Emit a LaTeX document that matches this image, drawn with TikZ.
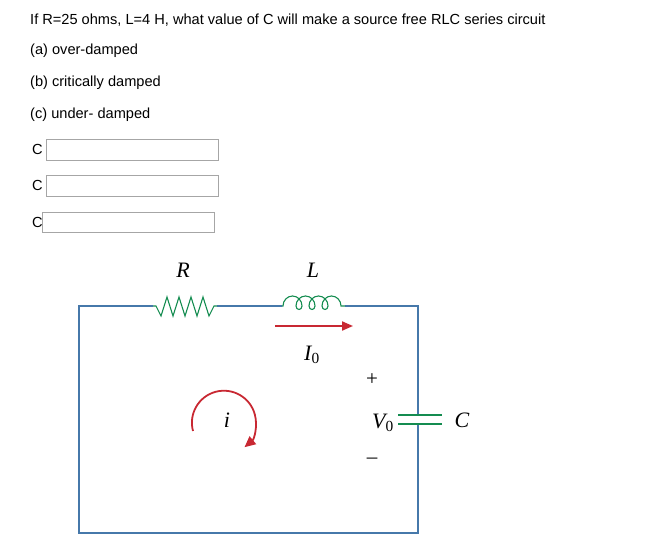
\documentclass[tikz,border=0pt]{standalone}
\usepackage{fontspec}
\setmainfont{Liberation Sans}
\newfontfamily\tnr{Liberation Serif}
\usetikzlibrary{decorations.pathmorphing,arrows.meta}
\definecolor{wire}{RGB}{70,120,170}
\definecolor{comp}{RGB}{20,140,80}
\definecolor{arr}{RGB}{200,40,50}
\begin{document}
\begin{tikzpicture}[x=1pt,y=-1pt,
  q/.style={anchor=west,font=\fontsize{14.6pt}{16pt}\selectfont,inner sep=0},
  box/.style={draw=black!35,line width=0.9pt},
  lab/.style={font=\tnr\itshape\fontsize{22pt}{23pt}\selectfont,inner sep=0},
  sym/.style={font=\tnr\fontsize{21pt}{22pt}\selectfont,inner sep=0}]
\useasboundingbox (0,0) rectangle (650,551);
\node[q] (t1) at (30,20) {If R=25 ohms, L=4 H, what value of C will make a source free RLC series circuit};
\node[q] (t2) at (30,51) {(a) over-damped};
\node[q] (t3) at (30,83) {(b) critically damped};
\node[q] (t4) at (30,115) {(c) under- damped};
\node[q] (c1) at (32,149) {C};
\node[q] (c2) at (32,185) {C};
\node[q] (c3) at (32,222) {C};
\draw[box,fill=white] (46,139) rectangle (218,160);
\draw[box,fill=white] (46,175) rectangle (218,196);
\draw[box,fill=white] (42,212) rectangle (214,232);
% circuit
\coordinate (r1) at (153,306); \coordinate (r2) at (217,306);
\coordinate (l1) at (282,306); \coordinate (l2) at (345,306);
\draw[wire,line width=1.3pt] (r1) -- (79,306) -- (79,533) -- (418,533) -- (418,424) -- (403,424);
\draw[wire,line width=1.3pt] (403,415) -- (418,415) -- (418,306) -- (l2);
\draw[wire,line width=1.3pt] (r2) -- (l1);
\draw[comp,line width=1.1pt] (r1) -- (156,306) -- (161,316) -- (167,297) -- (173,316) -- (179,297) -- (185,316) -- (191,297) -- (197,316) -- (203,297) -- (209,316) -- (214,306) -- (r2);
\draw[comp,line width=1.1pt] (l1) -- (283,306)
  arc[start angle=180,end angle=360,x radius=9.5,y radius=10]
  arc[start angle=0,end angle=180,x radius=3,y radius=3.5]
  arc[start angle=180,end angle=360,x radius=9.5,y radius=10]
  arc[start angle=0,end angle=180,x radius=3,y radius=3.5]
  arc[start angle=180,end angle=360,x radius=9.5,y radius=10]
  arc[start angle=0,end angle=180,x radius=3,y radius=3.5]
  arc[start angle=180,end angle=360,x radius=9.5,y radius=10] -- (l2);
\draw[comp,line width=1.2pt] (398,415) -- (442,415) (398,424) -- (442,424);
\node[lab] (R) at (183,270) {R};
\node[lab] (L) at (313,270) {L};
\coordinate (a1) at (275,326); \coordinate (a2) at (353,326);
\draw[arr,line width=2pt,-{Triangle[length=11pt,width=9pt]}] (a1) -- (a2);
\node[lab] (I0) at (312,355) {I\textsubscript{\upshape 0}};
\node[sym] (plus) at (372,380) {+};
\node[lab] (V0) at (383,423) {V\textsubscript{\upshape 0}};
\node[sym] (minus) at (372,461) {–};
\node[lab] (C) at (462,420) {C};
\node[lab] (i) at (227,420) {i};
\draw[arr,line width=1.8pt,-{Triangle[length=11pt,width=10pt]}] (193,431) arc[start angle=165,end angle=410,radius=32];
\end{tikzpicture}
\end{document}
